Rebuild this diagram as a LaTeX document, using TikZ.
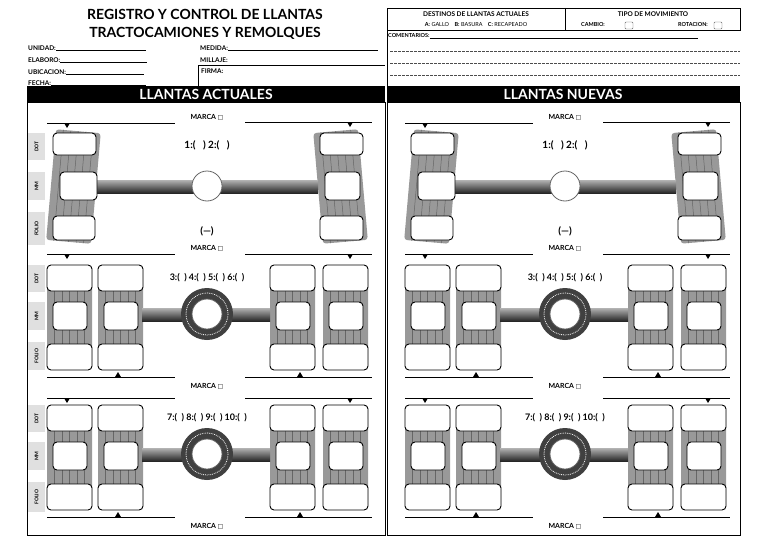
\documentclass[tikz,border=0pt]{standalone}
\usepackage{fontspec}
\setmainfont{Lato}
\newfontfamily\djv{DejaVu Sans}
\newcommand\sqbox{{\djv\fontsize{6}{6}\selectfont □}}
\begin{document}
\begin{tikzpicture}[x=1pt,y=-1pt,
  wb/.style={draw=black,fill=white,line width=0.9pt,rounded corners=4pt},
  tirebody/.style={fill=black!40,rounded corners=3pt},
  groove/.style={draw=black!60,line width=0.5pt},
  side/.style={fill=black!12},
  sidetxt/.style={rotate=90,font=\bfseries\fontsize{5}{6}\selectfont},
  lbl/.style={font=\bfseries\fontsize{6.5}{7}\selectfont,anchor=west,inner sep=0},
  marca/.style={font=\bfseries\fontsize{7}{8}\selectfont,inner sep=0},
  postxt/.style={font=\bfseries\fontsize{10}{11}\selectfont,inner sep=0},
  hline/.style={line width=0.8pt},
  tip/.style={fill=black}]
\useasboundingbox (0,0) rectangle (768,543);
\fill[white] (0,0) rectangle (768,543);
\newcommand\mytire[4]{\fill[tirebody] (#1,#2) rectangle ++(#3,#4);
  \foreach \k in {1,...,5}{\draw[groove] ({#1+\k*#3/6},#2) -- ++(0,#4);}}
\newcommand\dn[2]{\fill[tip] (#1-3,#2) -- (#1+3,#2) -- (#1,#2+5) -- cycle;}
\newcommand\up[2]{\fill[tip] (#1-3,#2) -- (#1+3,#2) -- (#1,#2-5) -- cycle;}
% header
\node[font=\bfseries\fontsize{14}{15}\selectfont] (t1) at (205,14) {REGISTRO Y CONTROL DE LLANTAS};
\node[font=\bfseries\fontsize{14}{15}\selectfont] (t2) at (205,33) {TRACTOCAMIONES Y REMOLQUES};
\node[lbl] (u) at (28,48) {UNIDAD:\rule{90pt}{0.4pt}};
\node[lbl] (e) at (28,60) {ELABORO:\rule{87pt}{0.4pt}};
\node[lbl] (ub) at (28,72) {UBICACION:\rule{78pt}{0.4pt}};
\node[lbl] (f) at (28,83) {FECHA:\rule{95pt}{0.4pt}};
\node[lbl] (m) at (200,48) {MEDIDA:\rule{150pt}{0.4pt}};
\node[lbl] (mi) at (200,60) {MILLAJE:};
\draw[line width=0.6pt] (198,87) -- (198,65) -- (385,65);
\node[lbl] (fi) at (201,71) {FIRMA:};
\draw[line width=0.8pt] (387,8) rectangle (740,30);
\draw[line width=0.8pt] (565,8) -- (565,30);
\draw[line width=0.6pt] (387,30) -- (387,86);
\node[font=\bfseries\fontsize{6.5}{7}\selectfont] (d) at (476,14) {DESTINOS DE LLANTAS ACTUALES};
\node[font=\fontsize{5.5}{6}\selectfont] (d2) at (476,25) {\textbf{A:}\ GALLO\quad \textbf{B:}\ BASURA\quad \textbf{C:}\ RECAPEADO};
\node[font=\bfseries\fontsize{6.5}{7}\selectfont] (tm) at (653,14) {TIPO DE MOVIMIENTO};
\node[font=\bfseries\fontsize{5.5}{6}\selectfont] (ca) at (593,25) {CAMBIO:};
\draw[rounded corners=1pt,black!60] (625,22) rectangle (633,29);
\node[font=\bfseries\fontsize{5.5}{6}\selectfont] (ro) at (693,25) {ROTACION:};
\draw[rounded corners=1pt,black!60] (714,22) rectangle (722,29);
\node[lbl,font=\bfseries\fontsize{5.5}{6}\selectfont] (co) at (388,36) {COMENTARIOS:\rule{268pt}{0.4pt}};
\foreach \yy in {51,63,75,86}{\draw[dashed,black!70,dash pattern=on 3pt off 1pt] (390,\yy) -- (740,\yy);}
\fill (27,86) rectangle (385,102);
\fill (387,86) rectangle (740,102);
\node[white,font=\bfseries\fontsize{14}{14}\selectfont] (la) at (206,94) {LLANTAS ACTUALES};
\node[white,font=\bfseries\fontsize{14}{14}\selectfont] (ln) at (563,94) {LLANTAS NUEVAS};
\draw[line width=0.8pt] (27,102) rectangle (385,535);
\draw[line width=0.8pt] (387,102) rectangle (740,535);
\foreach \ox/\sd in {0/1,358/0}{
\begin{scope}[xshift=\ox]
% side labels
\ifnum\sd=1
\foreach \ya/\yb/\tx in {133/160/DOT,172/200/MM,212/245/FOLIO,265/292/DOT,302/330/MM,342/370/FOLIO,405/432/DOT,442/470/MM,482/512/FOLIO}{
  \fill[side] (28,\ya) rectangle (45,\yb);
  \node[sidetxt] at (36.5,{(\ya+\yb)/2}) {\tx};}
\fi
% axle 1
\node[marca] at (207,117) {MARCA \sqbox};
\draw[hline] (47,123) -- (175,123); \draw[hline] (245,122) -- (372,122);
\dn{67}{123}\dn{350}{122}
\begin{scope}[rotate around={-5:(73,186)}]\mytire{51}{131}{45}{111}\end{scope}
\begin{scope}[rotate around={5:(340,186)}]\mytire{318}{131}{45}{111}\end{scope}
\shade[top color=black!30,bottom color=black!85] (95,180) rectangle (318,193);
\draw[black!60,fill=white,line width=0.8pt] (207,186) circle (15);
\draw[wb] (53,133) rectangle (96,155);
\draw[wb] (60,172) rectangle (97,200);
\draw[wb] (53,216) rectangle (95,240);
\draw[wb] (320,133) rectangle (363,155);
\draw[wb] (325,172) rectangle (360,200);
\draw[wb] (320,216) rectangle (363,240);
\node[postxt] at (207,145) {1:(\enspace\ ) 2:(\enspace\ )};
\node[postxt] at (207,231) {(---)};
\node[marca] at (207,248) {MARCA \sqbox};
\draw[hline] (47,254) -- (175,254); \draw[hline] (245,254) -- (372,254);
\dn{67}{254}\dn{350}{254}
% axles 2 and 3
\foreach \yo/\txt in {0/{3:(\enspace ) 4:(\enspace ) 5:(\enspace ) 6:(\enspace )},140/{7:(\enspace ) 8:(\enspace ) 9:(\enspace ) 10:(\enspace )}}{
 \begin{scope}[yshift=-\yo]
 \foreach \tx in {47,98,270,323}{\mytire{\tx}{266}{45}{103}
   \draw[wb] (\tx,265) rectangle ++(45,26);
   \draw[wb] (\tx+6,302) rectangle ++(34,28);
   \draw[wb] (\tx,344) rectangle ++(45,26);}
 \shade[top color=black!30,bottom color=black!85] (142,308) rectangle (270,321);
 \fill[black!75] (207,314) circle (26);
 \draw[white,densely dotted,line width=0.8pt] (207,314) circle (21);
 \draw[black!60,fill=white,line width=0.8pt] (207,314) circle (15);
 \node[postxt,font=\bfseries\fontsize{9}{10}\selectfont] at (207,278) {\txt};
 \draw[hline] (47,377) -- (175,377); \draw[hline] (245,377) -- (372,377);
 \up{118}{377}\up{300}{377}
 \node[marca] at (207,386) {MARCA \sqbox};
 \end{scope}}
\draw[hline] (47,398) -- (175,398); \draw[hline] (245,398) -- (372,398);
\dn{67}{398}\dn{350}{398}
\end{scope}}
\end{tikzpicture}
\end{document}
